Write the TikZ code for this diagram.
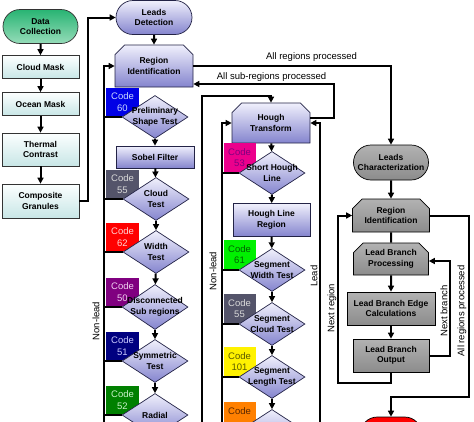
\documentclass[tikz,border=0pt]{standalone}
\usepackage{fontspec}
\setmainfont{Liberation Sans}
\usetikzlibrary{graphs}
\usetikzlibrary{arrows.meta}
\usetikzlibrary{shapes.geometric,shapes.misc}

\definecolor{lavtop}{RGB}{240,240,252}
\definecolor{lavbot}{RGB}{132,132,206}
\definecolor{lavline}{RGB}{35,35,70}
\definecolor{cyantop}{RGB}{252,255,255}
\definecolor{cyanbot}{RGB}{200,230,230}
\definecolor{greentop}{RGB}{40,180,115}
\definecolor{greenmid}{RGB}{238,250,244}
\definecolor{greenbot}{RGB}{150,220,185}
\definecolor{graytop}{RGB}{178,178,178}
\definecolor{graymid}{RGB}{240,240,240}
\definecolor{graybot}{RGB}{140,140,140}
\definecolor{slate}{RGB}{84,84,106}

\begin{document}
\begin{tikzpicture}[
x=1pt, y=-1pt,
process/.style={
	% The shape:
	rectangle, minimum width=77pt, minimum height=23pt, inner sep=1pt,
	% The border:
	line width=0.7pt, draw=black!80,
	% The filling:
	top color=cyantop, bottom color=cyanbot,
	% Font
	font=\fontsize{8.5}{10.5}\selectfont\bfseries, align=center},
startbox/.style={process, rounded rectangle, minimum height=34pt,
	top color=greentop, middle color=greenmid, bottom color=greenbot},
stepbox/.style={process, draw=lavline, top color=lavtop, bottom color=lavbot,
	minimum width=78pt},
leadsbox/.style={stepbox, rounded rectangle, minimum height=34pt},
regionbox/.style={stepbox, chamfered rectangle,
	chamfered rectangle corners={north west,north east},
	chamfered rectangle xsep=6pt},
testdia/.style={
	% The shape:
	diamond, minimum width=66pt, minimum height=43pt, inner sep=0pt,
	% The rest
	line width=0.7pt, draw=lavline, top color=lavtop, bottom color=lavbot},
dtext/.style={inner sep=0pt, align=center,
	font=\fontsize{8.5}{10.5}\selectfont\bfseries},
codebox/.style={rectangle, anchor=south west, minimum width=33pt,
	minimum height=28pt, inner sep=0pt, align=center,
	font=\fontsize{9.5}{11.5}\selectfont},
graybox/.style={process, top color=graytop, middle color=graymid,
	bottom color=graybot, draw=black},
grayregion/.style={graybox, chamfered rectangle,
	chamfered rectangle corners={north west,north east},
	chamfered rectangle xsep=6pt},
stopbox/.style={rounded rectangle, minimum width=68pt, minimum height=34pt,
	line width=0.7pt, draw=black, fill=red},
lbl/.style={inner sep=0pt, font=\fontsize{9.5}{11}\selectfont},
line width=2pt, >={Triangle[length=6pt,width=6pt]},
]
\clip (0,0) rectangle (474,421);

% input chain
\node[startbox] (collect) at (40.5,26.5) {Data\\Collection};
\node[process] (cloudmask) at (40.5,67) {Cloud Mask};
\node[process] (oceanmask) at (40.5,104) {Ocean Mask};
\node[process, minimum height=33pt] (thermal) at (40.5,149.5) {Thermal\\Contrast};
\node[process, minimum height=34pt] (granules) at (40.5,201) {Composite\\Granules};

% leads detection
\node[leadsbox] (detect) at (154,17.5) {Leads\\Detection};
\node[regionbox, minimum height=42pt] (regionA) at (154,66) {Region\\Identification};

% region tests
\node[codebox, fill={rgb,255:red,0;green,0;blue,230}, text={rgb,255:red,200;green,215;blue,255}] (code60) at (105,117) {Code\\60};
\node[codebox, fill=slate, text=black!15] (code55) at (105,199) {Code\\55};
\node[codebox, fill=red, text={rgb,255:red,255;green,210;blue,210}] (code62) at (105,252) {Code\\62};
\node[codebox, fill={rgb,255:red,128;green,0;blue,128}, text={rgb,255:red,240;green,208;blue,240}] (code50) at (105,307) {Code\\50};
\node[codebox, fill={rgb,255:red,0;green,0;blue,128}, text={rgb,255:red,200;green,200;blue,255}] (code51) at (105,361) {Code\\51};
\node[codebox, fill={rgb,255:red,0;green,128;blue,0}, text={rgb,255:red,200;green,240;blue,200}] (code52) at (105,415) {Code\\52};

\node[testdia] (prelim) at (155,117) {};
\node[dtext] (prelimT) at (prelim) {Preliminary\\Shape Test};
\node[stepbox, minimum height=22pt] (sobel) at (155,157) {Sobel Filter};
\node[testdia] (cloudtest) at (156,199) {};
\node[dtext] (cloudtestT) at (cloudtest) {Cloud\\Test};
\node[testdia] (widthtest) at (156,252) {};
\node[dtext] (widthtestT) at (widthtest) {Width\\Test};
\node[testdia, minimum height=45pt] (disconn) at (155,307) {};
\node[dtext] (disconnT) at (disconn) {Disconnected\\Sub regions};
\node[testdia] (symtest) at (155,361) {};
\node[dtext] (symtestT) at (symtest) {Symmetric\\Test};
\node[testdia] (radial) at (155,415) {};
\node[dtext] (radialT) at (radial) {Radial};

% hough tests
\node[regionbox, minimum height=40pt] (hough) at (271,123) {Hough\\Transform};

\node[codebox, minimum width=32pt, minimum height=29pt, fill=magenta, text={rgb,255:red,128;green,0;blue,128}] (code53) at (222.5,173) {Code\\53};
\node[codebox, minimum width=32pt, minimum height=29pt, fill={rgb,255:red,0;green,240;blue,0}, text={rgb,255:red,0;green,96;blue,0}] (code61) at (222.5,270) {Code\\61};
\node[codebox, minimum width=32pt, minimum height=29pt, fill=slate, text=black!15] (code55b) at (222.5,324) {Code\\55};
\node[codebox, minimum width=32pt, minimum height=29pt, fill=yellow, text={rgb,255:red,90;green,90;blue,0}] (code101) at (222.5,377) {Code\\101};
\node[codebox, minimum width=32pt, minimum height=29pt, fill={rgb,255:red,255;green,128;blue,0}, text={rgb,255:red,90;green,40;blue,0}] (codenext) at (222.5,432) {Code\\\phantom{00}};

\node[testdia] (shorthough) at (272,173) {};
\node[dtext] (shorthoughT) at (shorthough) {Short Hough\\Line};
\node[stepbox, minimum width=77pt, minimum height=33pt] (hlregion) at (271.5,220) {Hough Line\\Region};
\node[testdia] (segwidth) at (272,270) {};
\node[dtext] (segwidthT) at (segwidth) {Segment\\Width Test};
\node[testdia] (segcloud) at (272,324) {};
\node[dtext] (segcloudT) at (segcloud) {Segment\\Cloud Test};
\node[testdia] (seglength) at (272,377) {};
\node[dtext] (seglengthT) at (seglength) {Segment\\Length Test};
\node[testdia] (segnext) at (272,431) {};

% leads characterization
\node[graybox, rounded rectangle, minimum height=35pt] (charact) at (391,162.5) {Leads\\Characterization};
\node[grayregion, minimum height=33pt] (regionB) at (391,215.5) {Region\\Identification};
\node[grayregion, minimum width=75pt, minimum height=32pt] (branchproc) at (391,259) {Lead Branch\\Processing};
\node[graybox, minimum width=88pt, minimum height=33pt] (edgecalc) at (391,308.5) {Lead Branch Edge\\Calculations};
\node[graybox, minimum width=76pt, minimum height=33pt] (branchout) at (391,355.5) {Lead Branch\\Output};
\node[stopbox] (stop) at (391,434) {};

% loose ends below the picture
\coordinate (leftline) at (104,440);
\coordinate (midline) at (202,440);
\coordinate (nonline) at (222,440);
\coordinate (leadline) at (320,440);

\graph [use existing nodes] {
	collect -> cloudmask -> oceanmask -> thermal -> granules;
	detect -> regionA;
	prelim -> sobel -> cloudtest -> widthtest -> disconn -> symtest -> radial;
	hough -> shorthough -> hlregion -> segwidth -> segcloud -> seglength -> segnext;
	charact -> regionB -- branchproc -> edgecalc -> branchout;
};

\draw[->] (granules.east) -- ++(9,0) |- (detect.west);
\draw[->] (regionA.east) -| (charact.north);
\node[lbl] (allreg) at (311.5,57) {All regions processed};
\draw[->] ([yshift=5pt]hough.east) -- ++(24,0) |- ([yshift=-18pt]regionA.east);
\node[lbl] (allsub) at (271.5,77) {All sub-regions processed};

% non-lead returns
\draw[->] (leftline) |- (regionA.west);
\foreach \t in {prelim,cloudtest,widthtest,disconn,symtest,radial}
	\draw (\t.west) -- (\t.west -| leftline);
\node[lbl, rotate=90] (nonleadA) at (96,321) {Non-lead};
\draw[->] (midline) |- ([yshift=7pt]hough.north) -- (hough.north);
\draw[->] (nonline) |- (hough.west);
\foreach \t in {shorthough,segwidth,segcloud,seglength,segnext}
	\draw (\t.west) -- (\t.west -| nonline);
\node[lbl, rotate=90] (nonleadB) at (213,271) {Non-lead};
\draw[->] (leadline) |- (hough.east);
\node[lbl, rotate=90] (leadlbl) at (314,276) {Lead};

% branch and region loops
\draw[->] (branchout.east) -- ++(21,0) |- ([yshift=-2pt]branchproc.east);
\node[lbl, rotate=90] (nextbranch) at (444,311) {Next branch};
\draw[->] (branchout.south) -- ++(0,11) -| ([xshift=-14pt]regionB.west) -- (regionB.west);
\node[lbl, rotate=90] (nextregion) at (332,308) {Next region};
\draw[->] (regionB.east) -- ++(39,0) |- ([yshift=20pt]stop.north) -- (stop.north);
\node[lbl, rotate=90] (allregB) at (462,311) {All regions processed};

\end{tikzpicture}
\end{document}
